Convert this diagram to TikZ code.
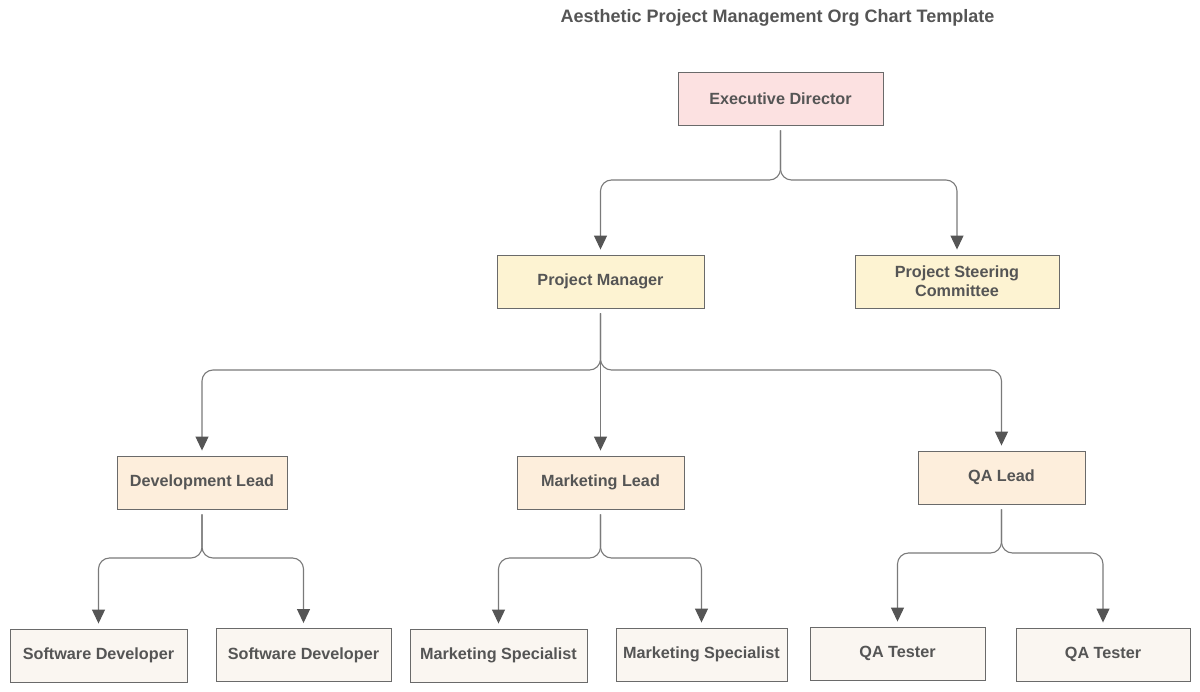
\documentclass[tikz,border=0pt]{standalone}
\usepackage{fontspec}
\setmainfont{Liberation Sans}
\usetikzlibrary{arrows.meta}
\definecolor{txt}{HTML}{555555}
\definecolor{edge}{HTML}{6A6A6A}
\definecolor{lnk}{HTML}{7A7A7A}
\definecolor{tip}{HTML}{555555}
\definecolor{pinkf}{HTML}{FCE1E1}
\definecolor{yellf}{HTML}{FDF3D2}
\definecolor{peachf}{HTML}{FDEEDC}
\definecolor{creamf}{HTML}{FAF6F1}
\tikzset{
  box/.style={draw=edge, line width=0.9pt, minimum height=53pt, align=center,
    text=txt, font=\fontsize{16.2}{19}\selectfont\bfseries, inner sep=2pt},
  conn/.style={draw=lnk, line width=1.1pt, rounded corners=11pt,
    shorten <=5pt, shorten >=5pt,
    -{Triangle[width=13pt,length=14pt,fill=tip,color=tip]}},
}
\begin{document}
\begin{tikzpicture}[x=1pt,y=-1pt]
\useasboundingbox (0,0) rectangle (1200,692);
\node[text=txt, font=\fontsize{18}{21}\selectfont\bfseries] (title) at (777.5,18) {Aesthetic Project Management Org Chart Template};

\node[box, fill=pinkf, minimum width=205pt] (ed) at (780.5,98.5) {Executive Director};
\node[box, fill=yellf, minimum width=207pt] (pm) at (600.5,281.5) {Project Manager};
\node[box, fill=yellf, minimum width=204pt] (psc) at (957,281.5) {Project Steering\\Committee};

\node[box, fill=peachf, minimum width=170pt] (dl) at (202,482.5) {Development Lead};
\node[box, fill=peachf, minimum width=167pt] (ml) at (600.5,482.5) {Marketing Lead};
\node[box, fill=peachf, minimum width=167pt] (ql) at (1001.5,477.5) {QA Lead};

\node[box, fill=creamf, minimum width=177pt] (sd1) at (98.5,655.5) {Software Developer};
\node[box, fill=creamf, minimum width=175pt] (sd2) at (303.5,655) {Software Developer};
\node[box, fill=creamf, minimum width=177pt] (ms1) at (498.5,655.5) {Marketing Specialist};
\node[box, fill=creamf, minimum width=171pt] (ms2) at (701.5,654.5) {Marketing Specialist};
\node[box, fill=creamf, minimum width=175pt] (qt1) at (897.5,653.5) {QA Tester};
\node[box, fill=creamf, minimum width=174pt] (qt2) at (1103,654.5) {QA Tester};

\coordinate (b1) at (780.5,180);
\coordinate (b2) at (600.5,370);
\coordinate (b3) at (202,558);
\coordinate (b4) at (600.5,558);
\coordinate (b5) at (1001.5,553);

\draw[conn] (ed.south) -- (b1) -| (pm.north);
\draw[conn] (ed.south) -- (b1) -| (psc.north);

\draw[conn] (pm.south) -- (b2) -| (dl.north);
\draw[conn] (pm.south) -- (ml.north);
\draw[conn] (pm.south) -- (b2) -| (ql.north);

\draw[conn] (dl.south) -- (b3) -| (sd1.north);
\draw[conn] (dl.south) -- (b3) -| (sd2.north);
\draw[conn] (ml.south) -- (b4) -| (ms1.north);
\draw[conn] (ml.south) -- (b4) -| (ms2.north);
\draw[conn] (ql.south) -- (b5) -| (qt1.north);
\draw[conn] (ql.south) -- (b5) -| (qt2.north);
\end{tikzpicture}
\end{document}
